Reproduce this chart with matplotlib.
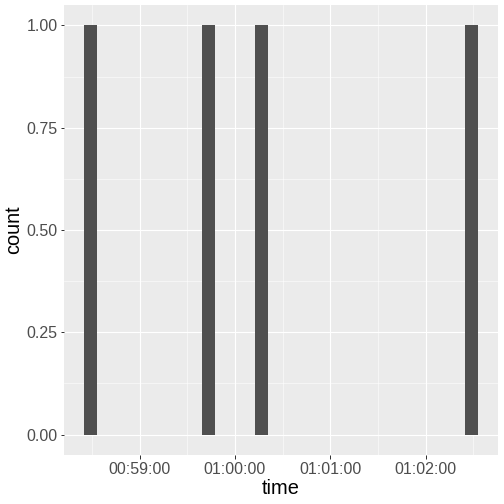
import numpy as np
import matplotlib
matplotlib.use('Agg')
import matplotlib.pyplot as plt
from matplotlib.ticker import FixedLocator, FuncFormatter

# event times, seconds after midnight
times = ["00:58:29", "00:59:44", "01:00:17", "01:02:29"]
tick_labels = ["00:59:00", "01:00:00", "01:01:00", "01:02:00"]
y_ticks = [0.00, 0.25, 0.50, 0.75, 1.00]


def to_sec(s):
    h, m, sec = (int(p) for p in s.split(':'))
    return h * 3600 + m * 60 + sec


def fmt(v, pos=None):
    v = int(round(v))
    return "%02d:%02d:%02d" % (v // 3600, (v % 3600) // 60, v % 60)


_x = np.array([to_sec(t) for t in times], dtype=float)

# ggplot style binning: 30 bins, first bin centred on min
_nbins = 30
_w = (_x.max() - _x.min()) / (_nbins - 1)
_edges = _x.min() - _w / 2 + np.arange(_nbins + 1) * _w
_counts, _ = np.histogram(_x, bins=_edges)
_centers = (_edges[:-1] + _edges[1:]) / 2

fig = plt.figure(figsize=(7, 7), dpi=72)
ax = fig.add_axes([64 / 504, 49 / 504, 434 / 504, 450 / 504])
ax.set_facecolor('#EBEBEB')

_xmaj = [to_sec(t) for t in tick_labels]
_xmin = [v - 30 for v in _xmaj] + [_xmaj[-1] + 30]
_ymin = [0.125, 0.375, 0.625, 0.875]

for v in _xmin:
    ax.axvline(v, color='white', lw=0.55, zorder=0)
for v in _ymin:
    ax.axhline(v, color='white', lw=0.55, zorder=0)
for v in _xmaj:
    ax.axvline(v, color='white', lw=1.1, zorder=0)
for v in y_ticks:
    ax.axhline(v, color='white', lw=1.1, zorder=0)

_nz = _counts > 0
ax.bar(_centers[_nz], _counts[_nz], width=_w, color='#4F4F4F', zorder=2)

_lo, _hi = _edges[0], _edges[-1]
_pad = (_hi - _lo) * 0.05
ax.set_xlim(_lo - _pad, _hi + _pad)
ax.set_ylim(-0.05, 1.05)

ax.xaxis.set_major_locator(FixedLocator(_xmaj))
ax.xaxis.set_major_formatter(FuncFormatter(fmt))
ax.set_yticks(y_ticks)
ax.set_yticklabels(["%.2f" % v for v in y_ticks])

for s in ax.spines.values():
    s.set_visible(False)

ax.tick_params(axis='both', colors='#333333', length=3.5, width=1.0,
               labelsize=16, labelcolor='#4D4D4D', pad=3,
               labelfontfamily='Liberation Sans')

ax.set_xlabel('time', fontsize=20, family='Liberation Sans', color='black', labelpad=2)
ax.set_ylabel('count', fontsize=20, family='Liberation Sans', color='black', labelpad=3)

fig.savefig('out.png', dpi=72, facecolor='white')
